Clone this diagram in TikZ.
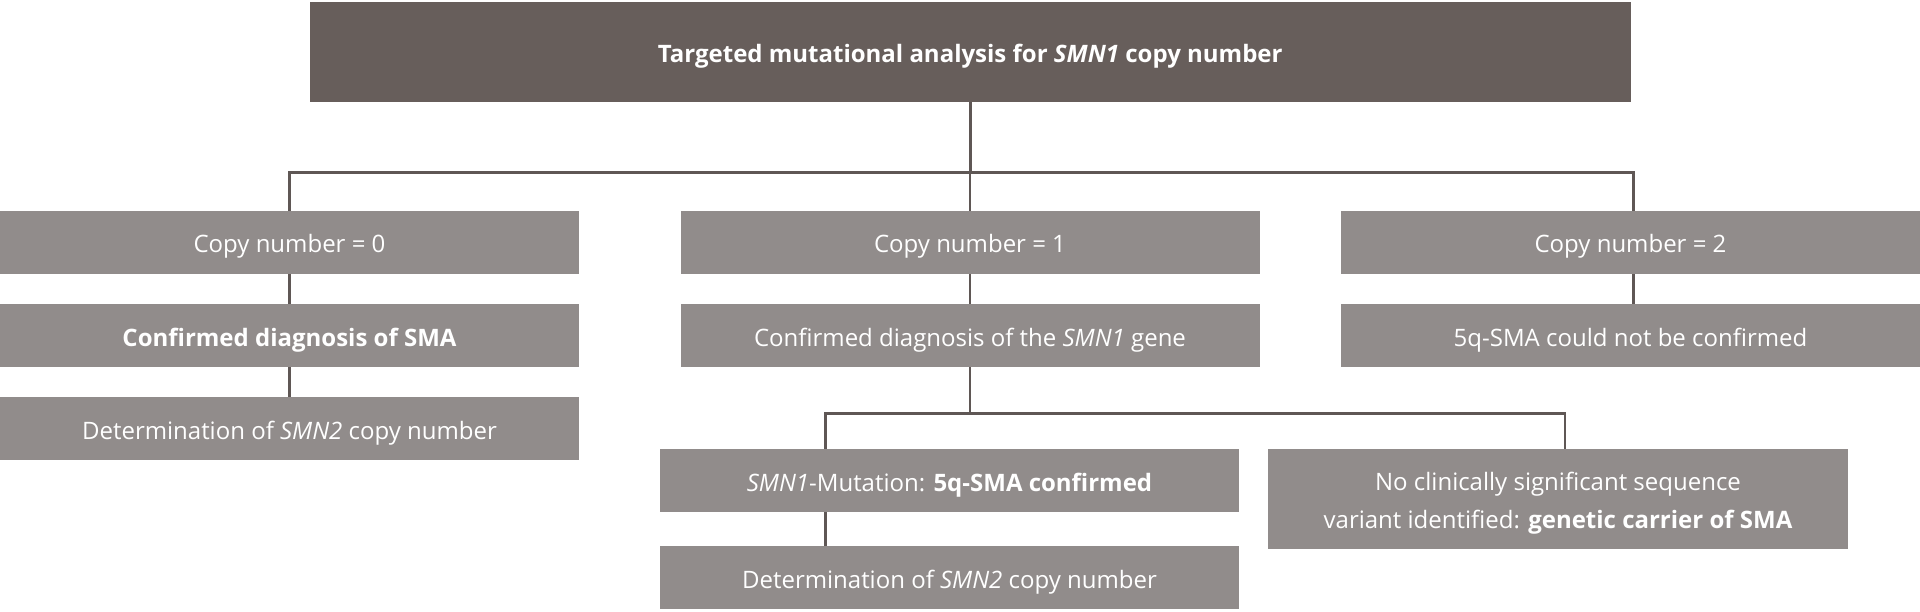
\documentclass[tikz,border=0pt]{standalone}
\usepackage{fontspec}
\setmainfont{Open Sans}
\definecolor{topfill}{HTML}{675E5B}
\definecolor{boxfill}{HTML}{918C8B}
\definecolor{linecol}{HTML}{5F5755}
\begin{document}
\begin{tikzpicture}[x=1pt,y=-1pt,
  basebox/.style={rectangle, inner sep=0pt, text=white, align=center,
    text height=24pt, text depth=3pt,
    font=\fontsize{24}{37.6}\selectfont},
  topbox/.style={basebox, fill=topfill, minimum width=1321.5pt, minimum height=100pt},
  gbox/.style={basebox, fill=boxfill, minimum width=579pt, minimum height=63pt},
  conn/.style={draw=linecol, line width=2.8pt}]
\useasboundingbox[fill=white] (0,0) rectangle (1920,612);
\node[topbox] (top) at (970.25,52) {\textbf{Targeted mutational analysis for \textit{SMN1} copy number}};
\node[gbox] (c0) at (289.5,242.5) {Copy number = 0};
\node[gbox] (c1) at (970,242.5) {Copy number = 1};
\node[gbox] (c2) at (1630.5,242.5) {Copy number = 2};
\node[gbox] (d0) at (289.5,335.5) {\textbf{Confirmed diagnosis of SMA}};
\node[gbox] (d1) at (970,335.5) {Confirmed diagnosis of the \textit{SMN1} gene};
\node[gbox] (d2) at (1630.5,335.5) {5q-SMA could not be confirmed};
\node[gbox] (e0) at (289.5,428.5) {Determination of \textit{SMN2} copy number};
\node[gbox] (m1) at (949.5,480.5) {\textit{SMN1}-Mutation: \textbf{5q-SMA confirmed}};
\node[gbox] (m2) at (949.5,577.5) {Determination of \textit{SMN2} copy number};
\node[gbox, minimum width=580pt, minimum height=100pt, text height=64.5pt, text depth=5.8pt] (nc) at (1558,499) {No clinically significant sequence\\variant identified: \textbf{genetic carrier of SMA}};
\coordinate (b1) at (0,172.7);
\coordinate (b2) at (0,413.7);
\coordinate (mj) at (825.5,0);
\coordinate (rj) at (1633.5,0);
\coordinate (nj) at (1565,0);
\draw[conn] (top.south) -- (top.south |- b1);
\draw[conn] (c0.north) |- (rj |- b1) -- (rj |- c2.north);
\draw[conn] (c1.north) -- (c1.north |- b1);
\draw[conn] (c0.south) -- (d0.north);
\draw[conn] (d0.south) -- (e0.north);
\draw[conn] (c1.south) -- (d1.north);
\draw[conn] (rj |- c2.south) -- (rj |- d2.north);
\draw[conn] (d1.south) -- (d1.south |- b2);
\draw[conn] (mj |- m1.north) |- (nj |- b2) -- (nj |- nc.north);
\draw[conn] (mj |- m1.south) -- (mj |- m2.north);
\end{tikzpicture}
\end{document}
